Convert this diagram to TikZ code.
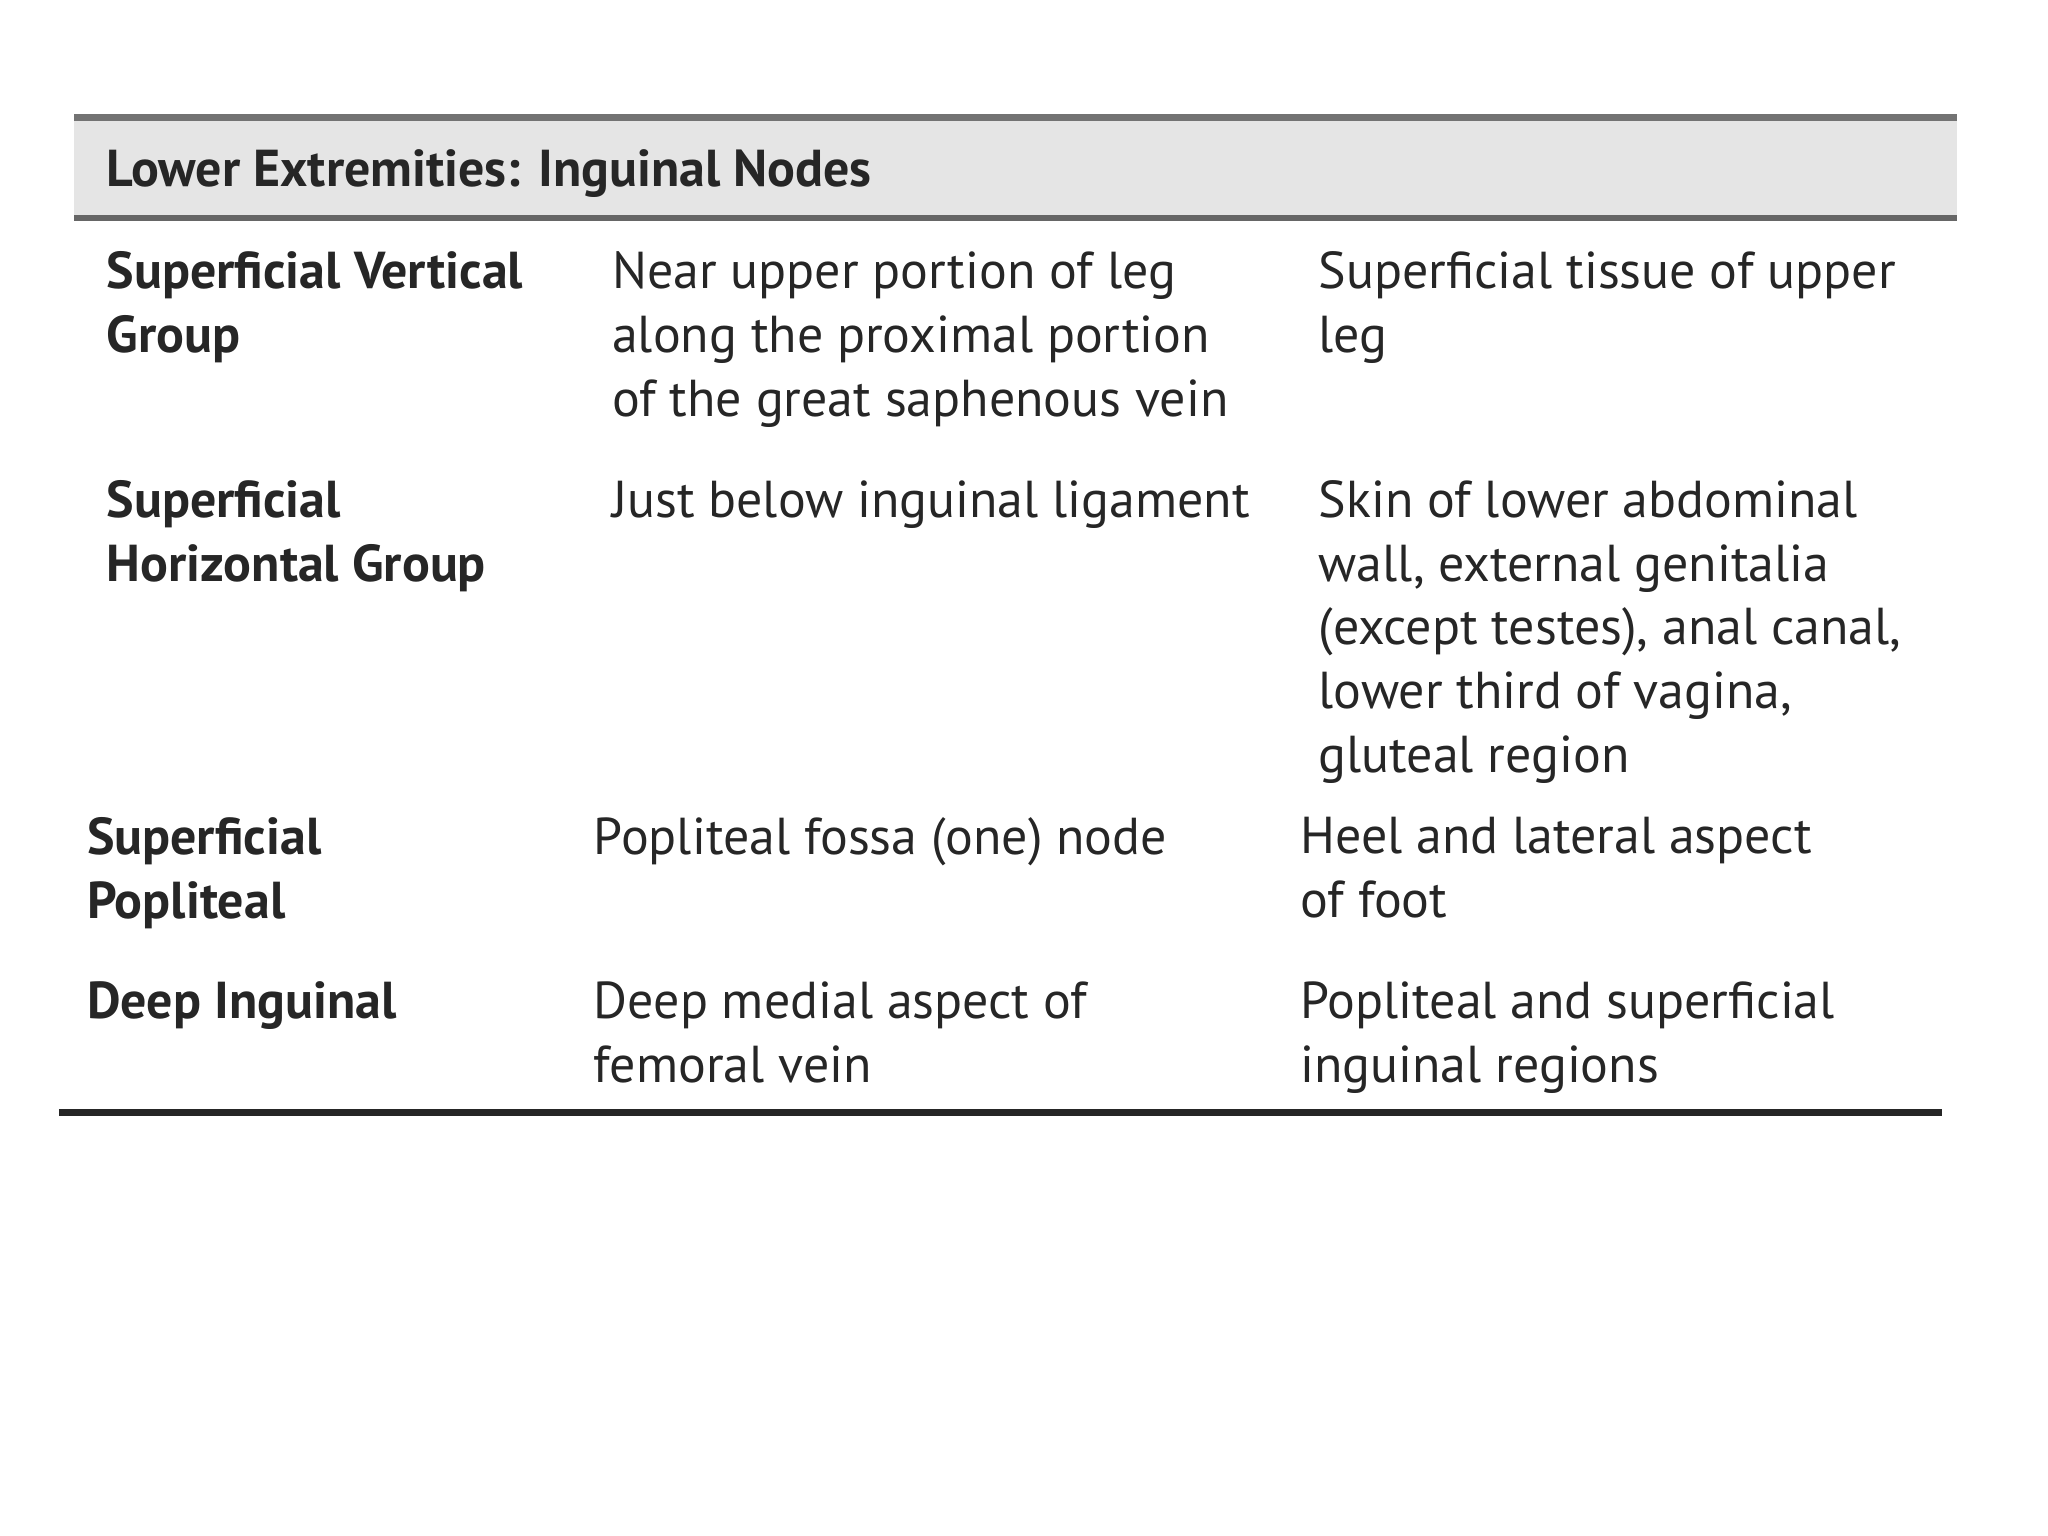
\documentclass[tikz,border=0pt]{standalone}
\usepackage{fontspec}
\setmainfont{PT Sans}
\begin{document}
\begin{tikzpicture}[x=0.01cm,y=-0.01cm,
  cell/.style={anchor=north west,inner sep=0pt,align=left,font=\fontsize{11.3pt}{13.9pt}\selectfont,text=black!85},
  hd/.style={cell,font=\fontsize{11.3pt}{13.9pt}\selectfont\bfseries}]
\useasboundingbox (0,0) rectangle (1568,1176);
\fill[black!10] (57,90) rectangle (1498,167);
\draw[black!55,line width=1.6pt] (57,90) -- (1498,90);
\draw[black!60,line width=1.4pt] (57,167) -- (1498,167);
\draw[black!85,line width=1.6pt] (45,852) -- (1487,852);
\node[hd] (h) at (81,114) {Lower Extremities: Inguinal Nodes};
\node[hd] (a1) at (81,192) {Superficial Vertical\\Group};
\node[cell] (b1) at (468,192) {Near upper portion of leg\\along the proximal portion\\of the great saphenous vein};
\node[cell] (c1) at (1009,192) {Superficial tissue of upper\\leg};
\node[hd] (a2) at (81,367) {Superficial\\Horizontal Group};
\node[cell] (b2) at (468,367) {Just below inguinal ligament};
\node[cell] (c2) at (1009,367) {Skin of lower abdominal\\wall, external genitalia\\(except testes), anal canal,\\lower third of vagina,\\gluteal region};
\node[hd] (a3) at (66,625) {Superficial\\Popliteal};
\node[cell] (b3) at (454,625) {Popliteal fossa (one) node};
\node[cell] (c3) at (995,625) {Heel and lateral aspect\\of foot};
\node[hd] (a4) at (66,751) {Deep Inguinal};
\node[cell] (b4) at (454,751) {Deep medial aspect of\\femoral vein};
\node[cell] (c4) at (995,751) {Popliteal and superficial\\inguinal regions};
\end{tikzpicture}
\end{document}
